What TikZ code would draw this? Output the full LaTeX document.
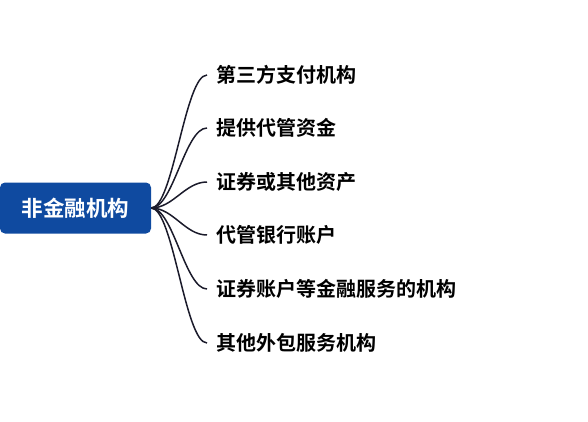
\documentclass[tikz,border=0pt]{standalone}
\usepackage{fontspec}
\setmainfont{Noto Sans CJK SC}[BoldFont={* Bold}]
\definecolor{rootblue}{HTML}{0F4AA0}
\definecolor{linkdark}{HTML}{1B1B2B}
\begin{document}
\begin{tikzpicture}[x=1pt,y=-1pt]
	% size of the canvas
	\def\canvaswd{588}
	\def\canvasht{422}
	\def\branchx{207}
	% node style definition
	\tikzstyle{root} = [draw=none, fill=rootblue, rounded corners=5pt, text=white, font=\bfseries\fontsize{21.5}{25}\selectfont, minimum width=151pt, minimum height=51pt, inner sep=0pt];
	\tikzstyle{leaf} = [anchor=west, inner xsep=9pt, inner ysep=2pt, text=black, font=\bfseries\fontsize{20}{24}\selectfont];
	\tikzstyle{link} = [draw=linkdark, line width=1.5pt];
	\useasboundingbox (0,0) rectangle (\canvaswd,\canvasht);
	% root node
	\node[root] (root) at (75.5,208) { 非金融机构 };
	% leaves
	\node[leaf] (third) at (\branchx,75) { 第三方支付机构 };
	\node[leaf] (fund) at (\branchx,128) { 提供代管资金 };
	\node[leaf] (asset) at (\branchx,182) { 证券或其他资产 };
	\node[leaf] (bank) at (\branchx,235) { 代管银行账户 };
	\node[leaf] (broker) at (\branchx,289) { 证券账户等金融服务的机构 };
	\node[leaf] (outsrc) at (\branchx,343) { 其他外包服务机构 };
	% branches
	\foreach \leaf in {third,fund,asset,bank,broker,outsrc} {
		\draw[link] (root.east) .. controls +(22,0) and ([xshift=-22pt]\leaf.west) .. (\leaf.west);
	}
\end{tikzpicture}
\end{document}
